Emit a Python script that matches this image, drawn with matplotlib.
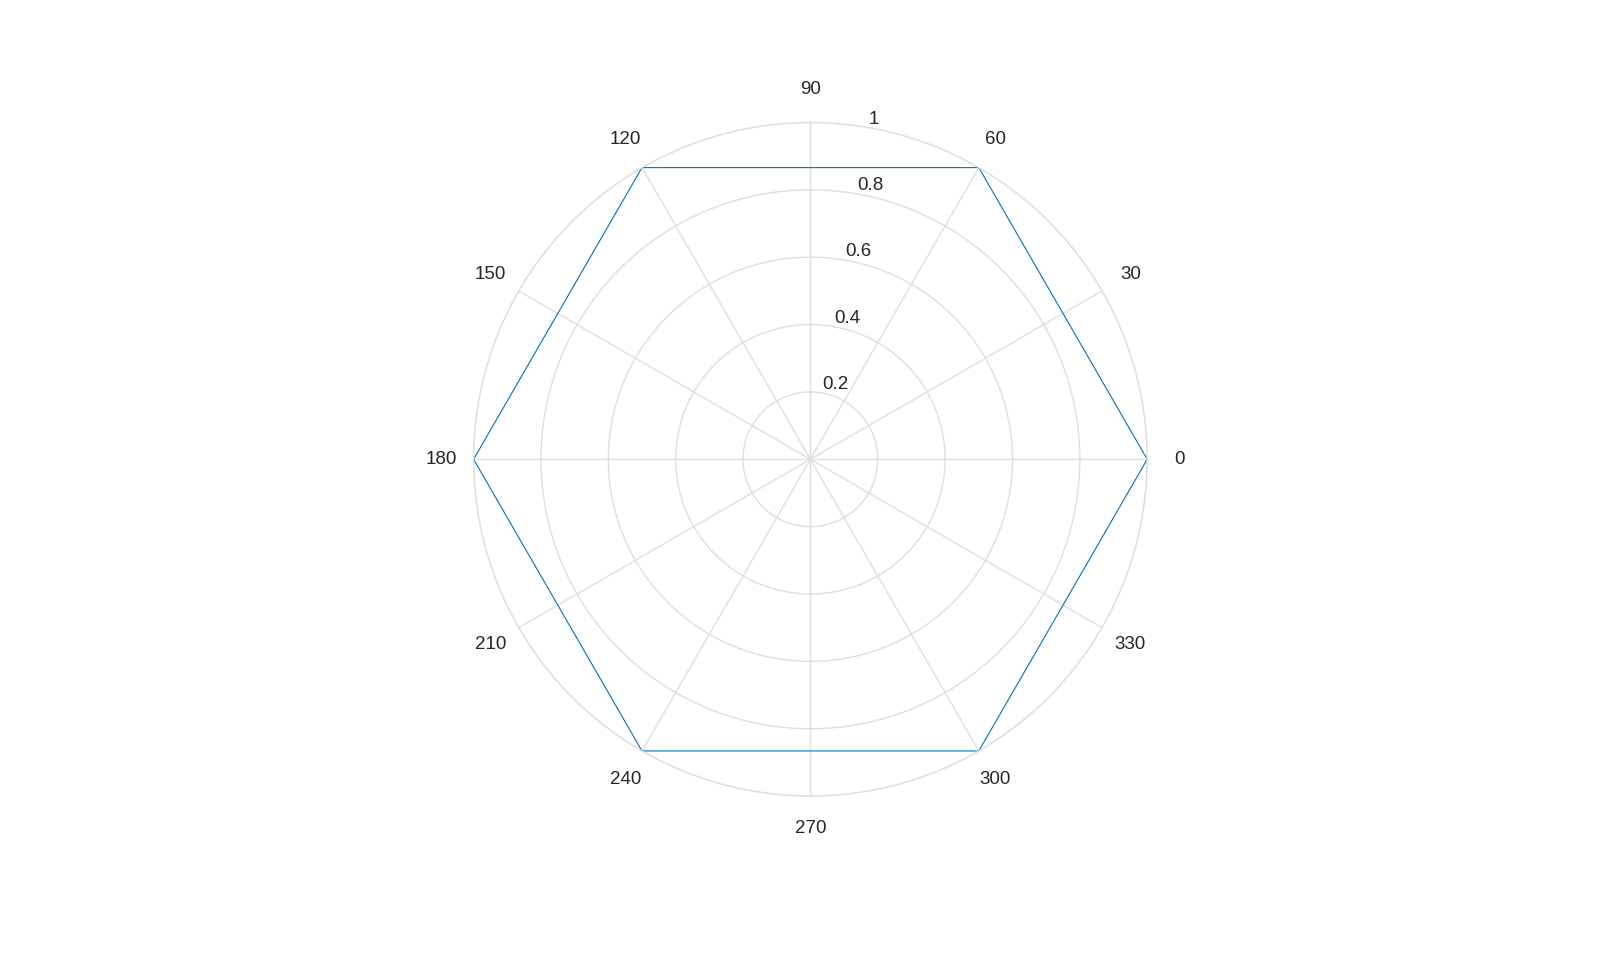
import numpy as np
import matplotlib.pyplot as plt

# Hexagon traced in polar coordinates
theta_deg = [0, 60, 120, 180, 240, 300, 360]
rho = [1, 1, 1, 1, 1, 1, 1]

r_ticks = [0.2, 0.4, 0.6, 0.8, 1.0]
r_tick_labels = ["0.2", "0.4", "0.6", "0.8", "1"]
theta_ticks = [0, 30, 60, 90, 120, 150, 180, 210, 240, 270, 300, 330]

plt.rcParams['font.family'] = ['Liberation Sans', 'DejaVu Sans']

fig = plt.figure(figsize=(16, 9.71), dpi=100)
ax = fig.add_axes([0.296, 0.180, 0.421, 0.694], projection='polar')

ax.plot(np.deg2rad(theta_deg), rho, color='#0072BD', linewidth=0.8)

ax.set_ylim(0, 1)
ax.set_yticks(r_ticks)
ax.set_yticklabels(r_tick_labels)
ax.set_rlabel_position(80)
ax.set_thetagrids(theta_ticks, [str(t) for t in theta_ticks])

ax.grid(True, color='#dfdfdf', linewidth=1)
ax.spines['polar'].set_color('#dfdfdf')
ax.spines['polar'].set_linewidth(1)
ax.tick_params(axis='x', pad=13, labelsize=13.5, colors='#262626')
ax.tick_params(axis='y', labelsize=13.5, colors='#262626')
for lbl in ax.get_yticklabels():
    lbl.set_horizontalalignment('left')
    lbl.set_verticalalignment('bottom')

fig.savefig("out.png", dpi=100)
